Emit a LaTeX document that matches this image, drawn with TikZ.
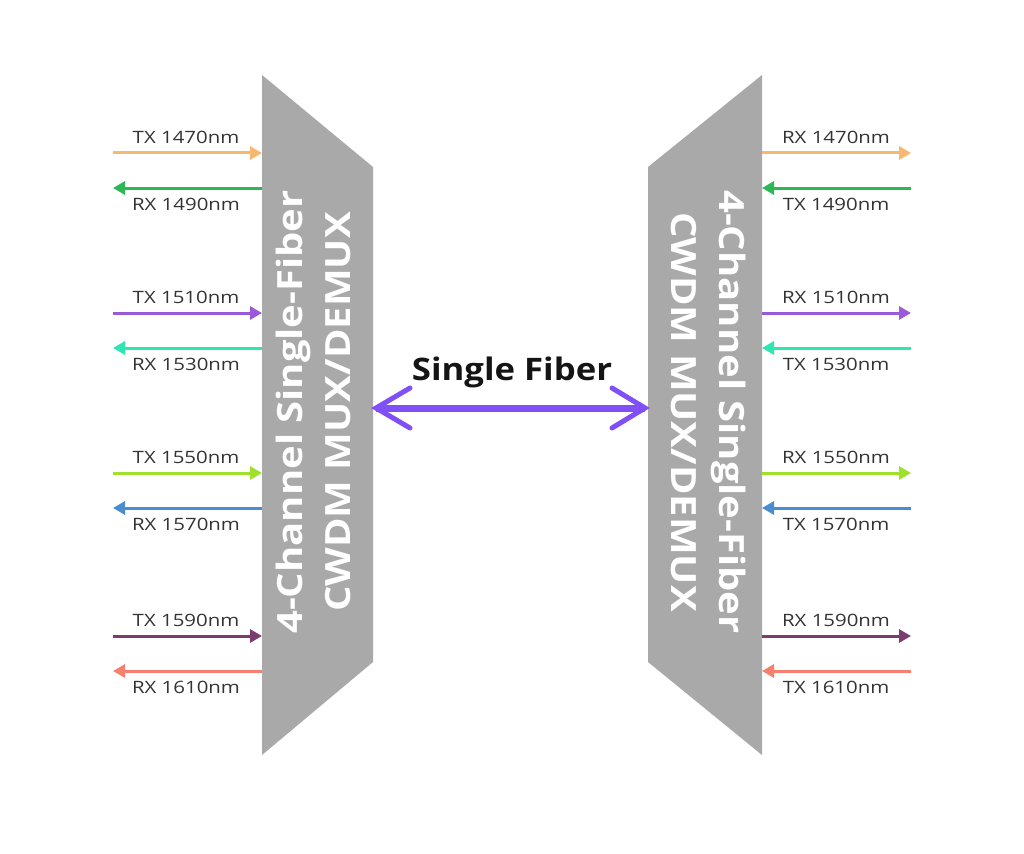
\documentclass[tikz,border=0pt]{standalone}
\usepackage{fontspec}
\setmainfont{Open Sans}
\usetikzlibrary{arrows.meta}
\definecolor{muxgray}{HTML}{A9A9A9}
\definecolor{lbl}{HTML}{333333}
\definecolor{c1470}{HTML}{F7B870}
\definecolor{c1490}{HTML}{2CB852}
\definecolor{c1510}{HTML}{9A5AD8}
\definecolor{c1530}{HTML}{2EE6B0}
\definecolor{c1550}{HTML}{9EE02C}
\definecolor{c1570}{HTML}{4A8CD0}
\definecolor{c1590}{HTML}{7D3C6E}
\definecolor{c1610}{HTML}{F6806E}
\definecolor{fiber}{HTML}{8050F6}
\newcommand{\muxlabel}{\scalebox{1}[0.87]{\fontsize{40}{55}\selectfont\bfseries\begin{tabular}{@{}c@{}}4-Channel Single-Fiber\\CWDM MUX/DEMUX\end{tabular}}}
\newcommand{\wtxt}[1]{\scalebox{1.2}[1]{#1}}
\tikzset{
  mux/.style={fill=muxgray, draw=none},
  muxtext/.style={text=white, inner sep=0pt},
  wl/.style={line width=3pt, -{Triangle[length=12pt,width=13pt]}},
  wlabel/.style={text=lbl, font=\fontsize{17}{20}\selectfont, inner sep=0pt},
  fiberline/.style={draw=fiber, line width=7pt},
  fiberarm/.style={draw=fiber, line width=5pt, line cap=round},
}
\begin{document}
\begin{tikzpicture}[x=1pt,y=-1pt]
\useasboundingbox[fill=white] (0,0) rectangle (1024,853);
% MUX shapes
\path[mux] (262,75) -- (373,167) -- (373,662) -- (262,755) -- cycle;
\path[mux] (762,75) -- (648,167) -- (648,662) -- (762,755) -- cycle;
\node[muxtext, rotate=90] (muxL) at (317,412) {\muxlabel};
\node[muxtext, rotate=-90] (muxR) at (705,412) {\muxlabel};

% endpoints
\foreach \n/\y in {a/153,b/188,c/313,d/348,e/473,f/508,g/636,h/671}{
  \coordinate (L\n o) at (113,\y);
  \coordinate (L\n i) at (262,\y);
  \coordinate (R\n i) at (762,\y);
  \coordinate (R\n o) at (911,\y);
}
% left arrows
\draw[wl, c1470] (Lao) -- (Lai);
\draw[wl, c1490] (Lbi) -- (Lbo);
\draw[wl, c1510] (Lco) -- (Lci);
\draw[wl, c1530] (Ldi) -- (Ldo);
\draw[wl, c1550] (Leo) -- (Lei);
\draw[wl, c1570] (Lfi) -- (Lfo);
\draw[wl, c1590] (Lgo) -- (Lgi);
\draw[wl, c1610] (Lhi) -- (Lho);
% right arrows
\draw[wl, c1470] (Rai) -- (Rao);
\draw[wl, c1490] (Rbo) -- (Rbi);
\draw[wl, c1510] (Rci) -- (Rco);
\draw[wl, c1530] (Rdo) -- (Rdi);
\draw[wl, c1550] (Rei) -- (Reo);
\draw[wl, c1570] (Rfo) -- (Rfi);
\draw[wl, c1590] (Rgi) -- (Rgo);
\draw[wl, c1610] (Rho) -- (Rhi);

% left labels
\node[wlabel] (tLa) at (186,137) {\wtxt{TX 1470nm}};
\node[wlabel] (tLb) at (186,204) {\wtxt{RX 1490nm}};
\node[wlabel] (tLc) at (186,297) {\wtxt{TX 1510nm}};
\node[wlabel] (tLd) at (186,364) {\wtxt{RX 1530nm}};
\node[wlabel] (tLe) at (186,457) {\wtxt{TX 1550nm}};
\node[wlabel] (tLf) at (186,524) {\wtxt{RX 1570nm}};
\node[wlabel] (tLg) at (186,620) {\wtxt{TX 1590nm}};
\node[wlabel] (tLh) at (186,687) {\wtxt{RX 1610nm}};
% right labels
\node[wlabel] (tRa) at (836,137) {\wtxt{RX 1470nm}};
\node[wlabel] (tRb) at (836,204) {\wtxt{TX 1490nm}};
\node[wlabel] (tRc) at (836,297) {\wtxt{RX 1510nm}};
\node[wlabel] (tRd) at (836,364) {\wtxt{TX 1530nm}};
\node[wlabel] (tRe) at (836,457) {\wtxt{RX 1550nm}};
\node[wlabel] (tRf) at (836,524) {\wtxt{TX 1570nm}};
\node[wlabel] (tRg) at (836,620) {\wtxt{RX 1590nm}};
\node[wlabel] (tRh) at (836,687) {\wtxt{TX 1610nm}};

% single fiber
\node[font=\bfseries\fontsize{31}{34}\selectfont, text=black!92, inner sep=0pt] (sf) at (512,372) {\scalebox{1.12}[1]{Single Fiber}};
\coordinate (fL) at (376,408);
\coordinate (fR) at (645,408);
\coordinate (fLu) at (410,388);
\coordinate (fLd) at (410,428);
\coordinate (fRu) at (612,388);
\coordinate (fRd) at (612,428);
\draw[fiberline] (fL) -- (fR);
\draw[fiberarm] (fLu) -- (fL) -- (fLd);
\draw[fiberarm] (fRu) -- (fR) -- (fRd);
\end{tikzpicture}
\end{document}
